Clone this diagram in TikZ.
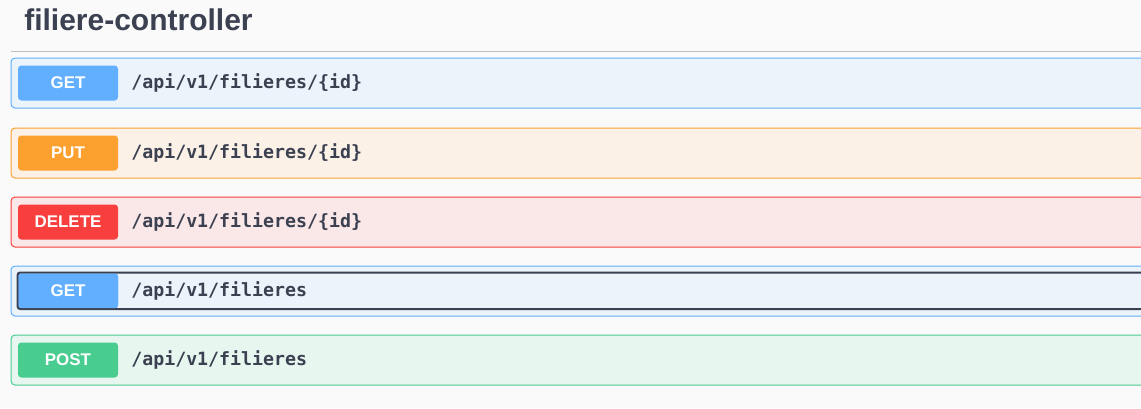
\documentclass[tikz,border=0pt]{standalone}
\usepackage{fontspec}
\setmainfont{Liberation Sans}
\newfontfamily\codefont{DejaVu Sans Mono}
\definecolor{txt}{HTML}{3B4151}
\definecolor{getc}{HTML}{61AFFE}\definecolor{getbg}{HTML}{EBF3FB}
\definecolor{putc}{HTML}{FCA130}\definecolor{putbg}{HTML}{FCF1E6}
\definecolor{delc}{HTML}{F93E3E}\definecolor{delbg}{HTML}{FAE7E7}
\definecolor{postc}{HTML}{49CC90}\definecolor{postbg}{HTML}{E8F6F0}
\definecolor{pagebg}{HTML}{FAFAFA}
\tikzset{
 row/.style={draw=#1, line width=0.75pt, rounded corners=3pt},
 badge/.style={fill=#1, rounded corners=2.5pt, minimum width=75pt, minimum height=26.25pt, inner sep=0pt, text=white, font=\bfseries\fontsize{12.7}{14}\selectfont},
 path/.style={anchor=west, text=txt, inner sep=0pt, font=\codefont\bfseries\fontsize{13.7}{16}\selectfont},
}
\begin{document}
\begin{tikzpicture}[x=0.75pt,y=-0.75pt]
\useasboundingbox (0,0) rectangle (1141,408);
\clip (0,0) rectangle (1141,408);
\fill[pagebg] (0,0) rectangle (1141,408);
\node[anchor=base west, inner sep=0pt, text=txt, font=\bfseries\fontsize{22.5}{26}\selectfont] (title) at (24,30) {filiere-controller};
\draw[color=black!25, line width=0.75pt] (11,51) -- (1160,51);
\foreach \y/\c/\bg/\m/\p [count=\i] in {58/getc/getbg/GET/{/api/v1/filieres/\{id\}},128/putc/putbg/PUT/{/api/v1/filieres/\{id\}},197/delc/delbg/DELETE/{/api/v1/filieres/\{id\}},266/getc/getbg/GET/{/api/v1/filieres},335/postc/postbg/POST/{/api/v1/filieres}}{
 \draw[row=\c, fill=\bg] (11,\y) rectangle (1160,\y+50);
 \node[badge=\c] (m\i) at (68,\y+25) {\m};
 \node[path] (p\i) at (131,\y+25) {\p};
}
\draw[color=txt, line width=1.5pt, rounded corners=2pt] (17.5,272.5) rectangle (1160,309);
\fill[getc, rounded corners=2pt] (18.5,273.5) rectangle (118,308);
\node[badge=getc, fill=none] at (68,291) {GET};
\end{tikzpicture}
\end{document}
